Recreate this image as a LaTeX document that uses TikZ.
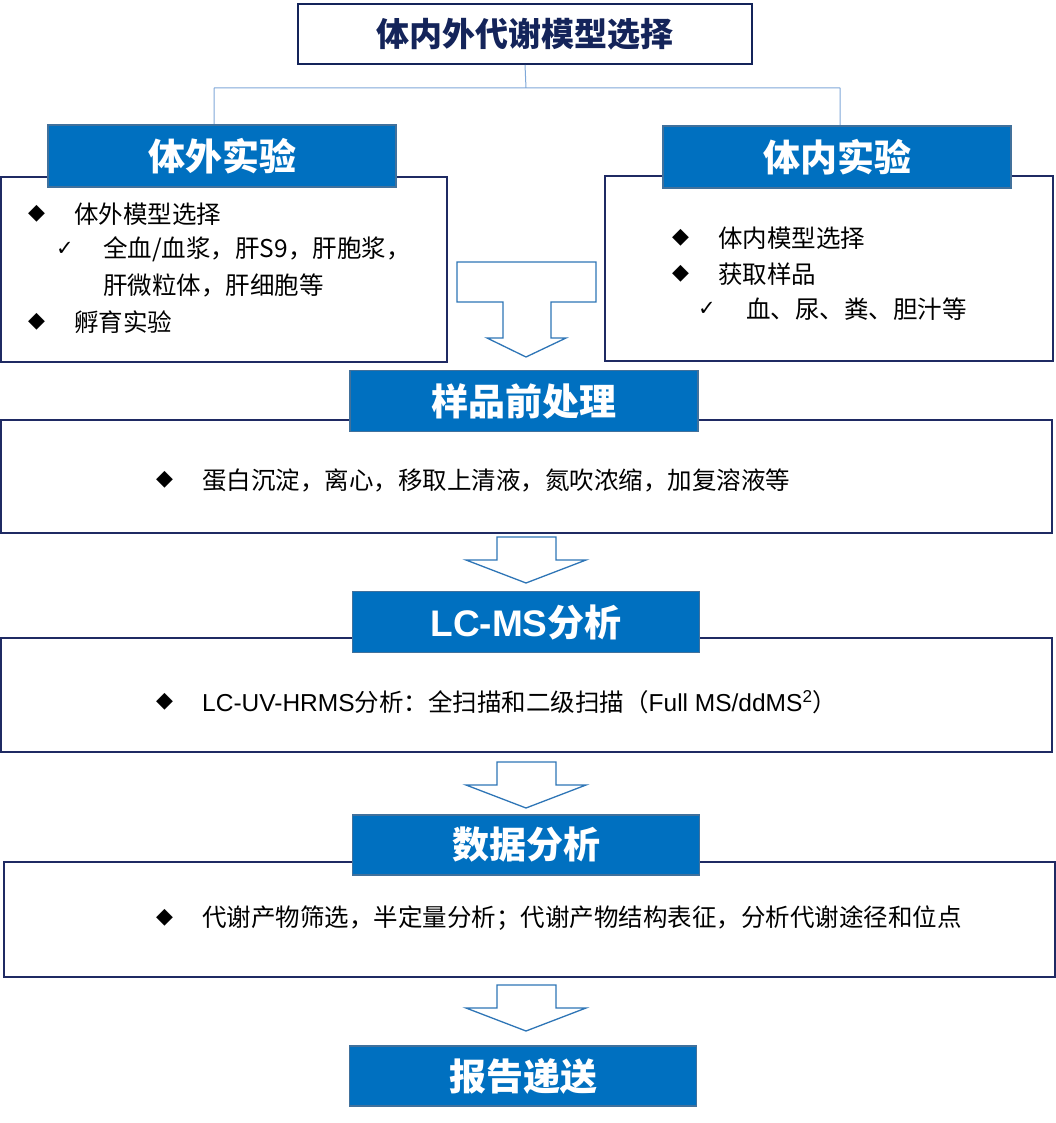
\documentclass[tikz,border=0pt]{standalone}
\usepackage{fontspec}
\setmainfont{Noto Sans CJK SC}
\newfontfamily\dv{DejaVu Sans}
\newfontfamily\rob{Liberation Sans}
\definecolor{hblue}{HTML}{0070C0}
\definecolor{hedge}{HTML}{41719C}
\definecolor{navy}{HTML}{1F2A63}
\definecolor{ttl}{HTML}{14245A}
\definecolor{arr}{HTML}{2E75B6}
\definecolor{lnk}{HTML}{7FA8D8}
\tikzset{
 hdr/.style={fill=hblue,draw=hedge,line width=1.5pt,text=white,font=\fontsize{37}{40}\selectfont\bfseries},
 cbox/.style={draw=navy,line width=1.5pt,fill=white},
 arrw/.style={draw=arr,line width=1.3pt,fill=white,line join=miter},
 txt/.style={anchor=west,font=\fontsize{24.5}{28}\selectfont,inner sep=0pt},
}
\newcommand{\dia}{{\dv\fontsize{22}{24}\selectfont ◆}}
\newcommand{\chk}{{\dv\fontsize{21}{24}\selectfont ✓}}
\begin{document}
\begin{tikzpicture}[x=1pt,y=-1pt]
\useasboundingbox (0,0) rectangle (1056,1123);
% title
\node[draw=ttl,line width=1.8pt,minimum width=454pt,minimum height=60pt,text=ttl,font=\fontsize{33}{36}\selectfont\bfseries] (title) at (525,34) {体内外代谢模型选择};
\coordinate (j) at (526,88);
\draw[lnk,line width=1pt] (title.south) -- (j) (214,88) -- (840,88) (214,88) -- (214,125) (840,88) -- (840,126);
% left
\draw[cbox] (1,177) rectangle (447,362);
\node[hdr,minimum width=348pt,minimum height=62pt] (lh) at (222,156) {体外实验};
\node[txt] at (28,214) {\dia};
\node[txt] at (74,214) {体外模型选择};
\node[txt] at (56,249) {\chk};
\node[txt] at (103,249) {全血/血浆，肝S9，肝胞浆，};
\node[txt] at (103,285) {肝微粒体，肝细胞等};
\node[txt] at (28,322) {\dia};
\node[txt] at (74,322) {孵育实验};
% right
\draw[cbox] (605,176) rectangle (1053,361);
\node[hdr,minimum width=348pt,minimum height=62pt] (rh) at (837,157) {体内实验};
\node[txt] at (672,238) {\dia};
\node[txt] at (718,238) {体内模型选择};
\node[txt] at (672,274) {\dia};
\node[txt] at (718,274) {获取样品};
\node[txt] at (698,309) {\chk};
\node[txt] at (746,309) {血、尿、粪、胆汁等};
% arrow 1
\draw[arrw] (457,262) -- (596,262) -- (596,302) -- (551,302) -- (551,338) -- (566,338) -- (526,357) -- (487,338) -- (503,338) -- (503,302) -- (457,302) -- cycle;
% sample
\draw[cbox] (1,420) rectangle (1052,533);
\node[hdr,minimum width=348pt,minimum height=61pt] (sh) at (524,401) {样品前处理};
\node[txt] at (156,480) {\dia};
\node[txt] at (202,480) {蛋白沉淀，离心，移取上清液，氮吹浓缩，加复溶液等};
\newcommand{\darr}[1]{\draw[arrw] (497,#1) -- (556,#1) -- (556,#1+23) -- (586,#1+23) -- (526,#1+46) -- (466,#1+23) -- (497,#1+23) -- cycle;}
\darr{537}
% LC-MS
\draw[cbox] (1,638) rectangle (1052,752);
\node[hdr,minimum width=347pt,minimum height=61pt] (lc) at (526,622) {{\rob LC-MS}分析};
\node[txt] at (156,702) {\dia};
\node[txt] at (202,702) {{\rob LC-UV-HRMS}分析：全扫描和二级扫描（{\rob Full MS/ddMS\textsuperscript{2}}）};
\darr{762}
% data
\draw[cbox] (4,862) rectangle (1055,977);
\node[hdr,minimum width=347pt,minimum height=60pt] (da) at (526,845) {数据分析};
\node[txt] at (156,918) {\dia};
\node[txt] at (202,918) {代谢产物筛选，半定量分析；代谢产物结构表征，分析代谢途径和位点};
\darr{985}
% report
\node[hdr,minimum width=347pt,minimum height=60pt] (rp) at (523,1076) {报告递送};
\end{tikzpicture}
\end{document}
